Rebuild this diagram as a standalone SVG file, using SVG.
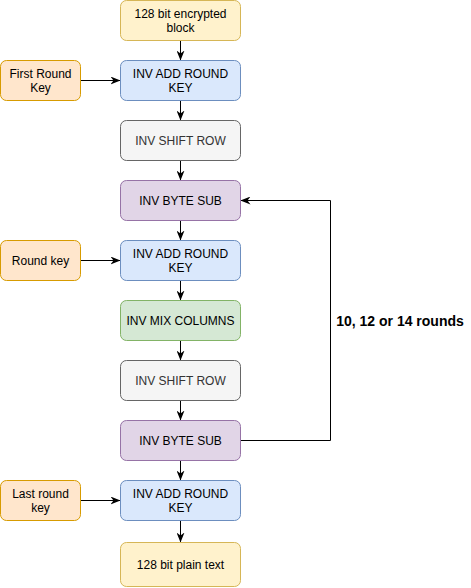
<svg xmlns="http://www.w3.org/2000/svg" width="471" height="588" viewBox="0 0 471 588">
<defs>
<marker id="arr" markerUnits="userSpaceOnUse" viewBox="0 0 10 8" refX="10" refY="4" markerWidth="10" markerHeight="8" orient="auto">
<path d="M0,0 L10,4 L0,8 L3,4 z" fill="#000"/>
</marker>
<style>
rect{stroke-width:1}
text{font-family:"Liberation Sans",Arial,sans-serif;font-size:12px;text-anchor:middle;fill:#000}
.y{fill:#fff2cc;stroke:#d6b656}
.b{fill:#dae8fc;stroke:#6c8ebf}
.g{fill:#f5f5f5;stroke:#666666}
.p{fill:#e1d5e7;stroke:#9673a6}
.gr{fill:#d5e8d4;stroke:#82b366}
.o{fill:#ffe6cc;stroke:#d79b00}
.gt{fill:#333333}
.c{fill:none;stroke:#000;stroke-width:1;marker-end:url(#arr)}
</style>
</defs>
<rect width="471" height="588" fill="#fff"/>
<g id="connectors">
<path class="c" d="M180.5,40.5 V60.5"/>
<path class="c" d="M80.5,80.5 H120.5"/>
<path class="c" d="M180.5,100.5 V120.5"/>
<path class="c" d="M180.5,160.5 V180.5"/>
<path class="c" d="M180.5,220.5 V240.5"/>
<path class="c" d="M80.5,260.5 H120.5"/>
<path class="c" d="M180.5,280.5 V300.5"/>
<path class="c" d="M180.5,340.5 V360.5"/>
<path class="c" d="M180.5,400.5 V420.5"/>
<path class="c" d="M180.5,460.5 V480.5"/>
<path class="c" d="M80.5,500.5 H120.5"/>
<path class="c" d="M180.5,520.5 V542.5"/>
<path class="c" d="M240.5,440.5 H330.5 V200.5 H240.5"/>
<text x="400" y="326" style="font-weight:bold;font-size:14px">10, 12 or 14 rounds</text>
</g>
<g id="n1"><rect class="y" x="120.5" y="0.5" width="120" height="40" rx="6"/><text x="180.5" y="18">128 bit encrypted</text><text x="180.5" y="32">block</text></g>
<g id="k1"><rect class="o" x="0.5" y="60.5" width="80" height="40" rx="6"/><text x="40.5" y="78">First Round</text><text x="40.5" y="92">Key</text></g>
<g id="n2"><rect class="b" x="120.5" y="60.5" width="120" height="40" rx="6"/><text x="180.5" y="78">INV ADD ROUND</text><text x="180.5" y="92">KEY</text></g>
<g id="n3"><rect class="g" x="120.5" y="120.5" width="120" height="40" rx="6"/><text class="gt" x="180.5" y="145">INV SHIFT ROW</text></g>
<g id="n4"><rect class="p" x="120.5" y="180.5" width="120" height="40" rx="6"/><text x="180.5" y="205">INV BYTE SUB</text></g>
<g id="k2"><rect class="o" x="0.5" y="240.5" width="80" height="40" rx="6"/><text x="40.5" y="265">Round key</text></g>
<g id="n5"><rect class="b" x="120.5" y="240.5" width="120" height="40" rx="6"/><text x="180.5" y="258">INV ADD ROUND</text><text x="180.5" y="272">KEY</text></g>
<g id="n6"><rect class="gr" x="120.5" y="300.5" width="120" height="40" rx="6"/><text x="180.5" y="325">INV MIX COLUMNS</text></g>
<g id="n7"><rect class="g" x="120.5" y="360.5" width="120" height="40" rx="6"/><text class="gt" x="180.5" y="385">INV SHIFT ROW</text></g>
<g id="n8"><rect class="p" x="120.5" y="420.5" width="120" height="40" rx="6"/><text x="180.5" y="445">INV BYTE SUB</text></g>
<g id="k3"><rect class="o" x="0.5" y="480.5" width="80" height="40" rx="6"/><text x="40.5" y="498">Last round</text><text x="40.5" y="512">key</text></g>
<g id="n9"><rect class="b" x="120.5" y="480.5" width="120" height="40" rx="6"/><text x="180.5" y="498">INV ADD ROUND</text><text x="180.5" y="512">KEY</text></g>
<g id="n10"><rect class="y" x="120.5" y="542.5" width="120" height="44" rx="6"/><text x="180.5" y="569">128 bit plain text</text></g>
</svg>
